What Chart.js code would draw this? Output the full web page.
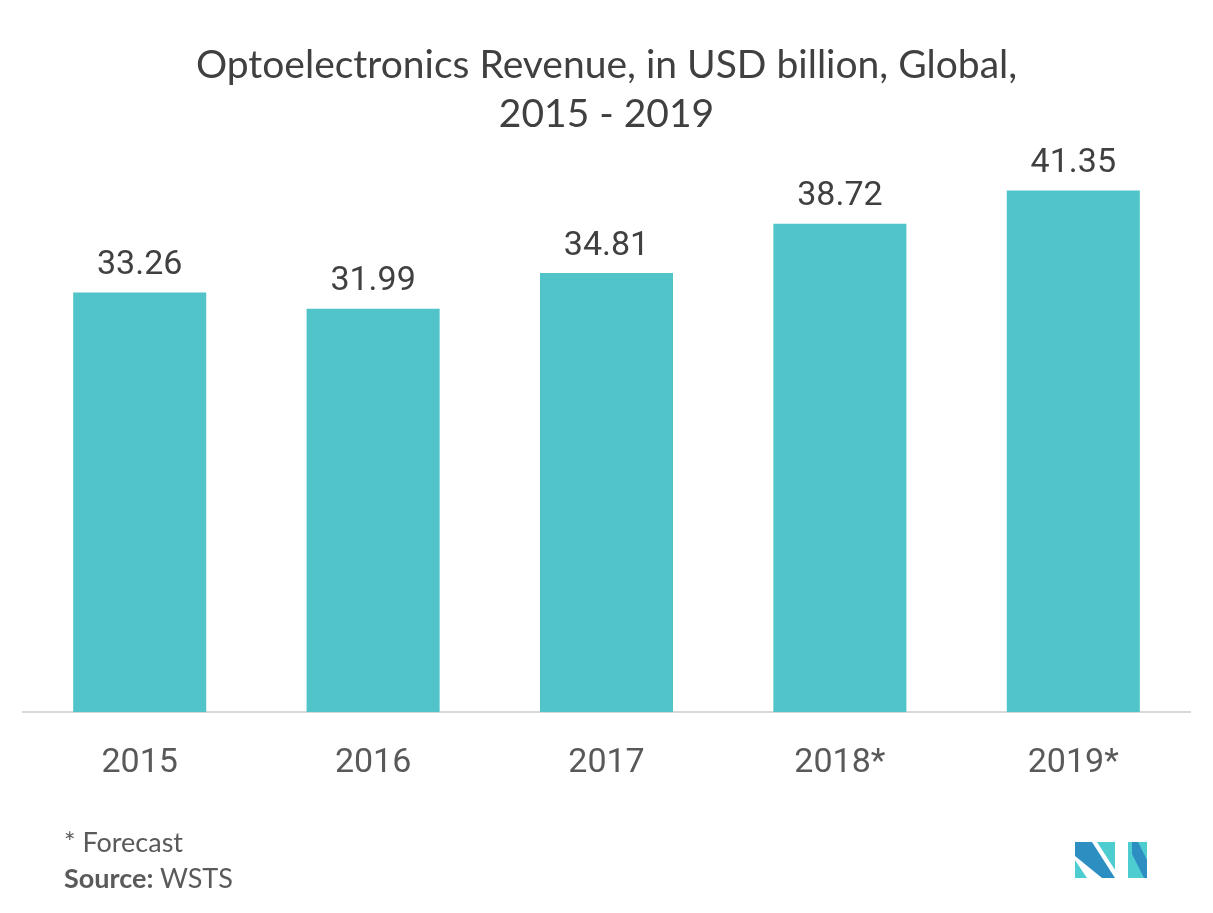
<!DOCTYPE html>
<html>
<head>
<meta charset="utf-8">
<script src="https://cdn.jsdelivr.net/npm/chart.js@4.4.0/dist/chart.umd.min.js"></script>
<style>
  html, body { margin: 0; padding: 0; background: #fff; }
  #wrap { position: relative; width: 1213px; height: 913px; }
  #myChart { position: absolute; left: 0; top: 0; }
  .note { position: absolute; left: 64px; font-family: Lato, sans-serif; font-size: 27px; color: #5a5a5a; }
  #logo { position: absolute; left: 1075px; top: 840px; }
</style>
</head>
<body>
<div id="wrap">
  <canvas id="myChart" width="1213" height="913"></canvas>
  <div class="note" style="top:825px;">* Forecast</div>
  <div class="note" style="top:861px;"><b>Source:</b> WSTS</div>
  <svg id="logo" width="74" height="42" viewBox="0 0 74 42">
    <polygon points="0,20 0,38 12,38" fill="#4ecdd1"/>
    <polygon points="0,2 17,2 40,38 27,38 0,16" fill="#2d8fc1"/>
    <polygon points="22,2 40,2 40,30" fill="#4ecdd1"/>
    <polygon points="53,2 72,2 72,38 53,38" fill="#4ecdd1"/>
    <polygon points="57,2 63,2 72,20 72,38 69,38 57,14" fill="#2d8fc1"/>
  </svg>
</div>
<script>
// chart values
var years  = ["2015", "2016", "2017", "2018*", "2019*"];
var revenue = [33.26, 31.99, 34.81, 38.72, 41.35];
var titleLines = ["Optoelectronics Revenue, in USD billion, Global,", "2015 - 2019"];

// draws the value above every bar
var barLabels = {
  id: "barLabels",
  afterDatasetsDraw: function(chart) {
    var ctx = chart.ctx;
    var meta = chart.getDatasetMeta(0);
    ctx.save();
    ctx.font = "34px Roboto";
    ctx.fillStyle = "#404040";
    ctx.textAlign = "center";
    ctx.textBaseline = "middle";
    for (var i = 0; i < meta.data.length; i++) {
      var bar = meta.data[i];
      ctx.fillText(revenue[i].toFixed(2), bar.x, bar.y - 27);
    }
    ctx.restore();
  }
};

var ctx = document.getElementById("myChart");

var myChart = new Chart(ctx, {
  type: "bar",
  data: {
    labels: years,
    datasets: [{
      data: revenue,
      backgroundColor: "#51c4ca",
      borderWidth: 0,
      categoryPercentage: 0.57,
      barPercentage: 1.0
    }]
  },
  options: {
    responsive: false,
    animation: false,
    layout: { padding: { left: 23, right: 23, top: 0, bottom: 98 } },
    plugins: {
      legend: { display: false },
      tooltip: { enabled: false },
      title: {
        display: true,
        text: titleLines,
        color: "#404040",
        font: { family: "Lato", size: 39, weight: "normal", lineHeight: 1.25 },
        padding: { top: 41, bottom: 6 }
      }
    },
    scales: {
      x: {
        grid: { display: false, drawTicks: false },
        border: { display: true, color: "#d9d9d9", width: 2 },
        ticks: { color: "#595959", font: { family: "Roboto", size: 34 }, padding: 31 }
      },
      y: {
        display: false,
        min: 0,
        max: 45
      }
    }
  },
  plugins: [barLabels]
});
</script>
</body>
</html>
